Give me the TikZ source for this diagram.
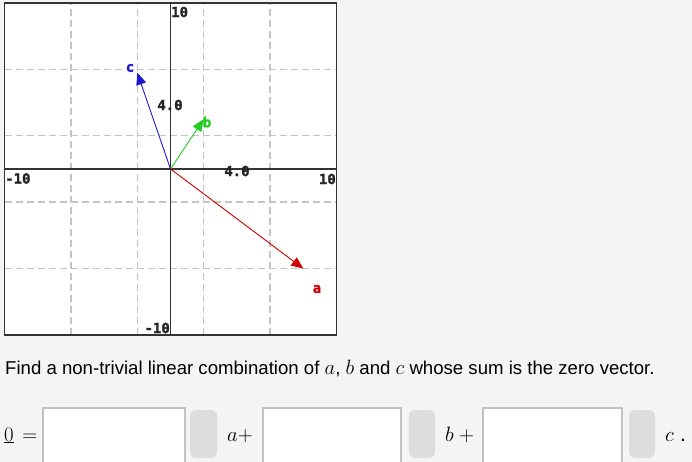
\documentclass[tikz,border=0pt]{standalone}
\usepackage{fontspec}
\setmainfont{Liberation Sans}
\newfontfamily\plotfont{DejaVu Sans Mono Bold}[FakeBold=1.6]
\usetikzlibrary{arrows.meta}
\definecolor{pagebg}{HTML}{F4F4F4}
\definecolor{gridgray}{HTML}{C4C4C4}
\definecolor{vecred}{HTML}{D00000}
\definecolor{vecgreen}{HTML}{22CC22}
\definecolor{vecblue}{HTML}{1A1ACC}
\definecolor{boxborder}{HTML}{C2C2C2}
\definecolor{btngray}{HTML}{DDDDDD}
\newcommand{\qm}[1]{{\fontsize{21}{21}\selectfont$#1$}}
\tikzset{
  gridline/.style={gridgray, line width=1.4pt, dash pattern=on 7pt off 4pt},
  axisline/.style={black!80, line width=1.4pt},
  plotlabel/.style={font=\plotfont\fontsize{14}{14}\selectfont, inner sep=0pt, text=black!85},
  veclabel/.style={font=\plotfont\fontsize{14}{14}\selectfont, inner sep=0pt},
  vecarrow/.style={line width=0.9pt, -{Triangle[length=12pt,width=10pt]}},
  inputbox/.style={draw=boxborder, fill=white, line width=1.3pt},
  btnbox/.style={fill=btngray, rounded corners=6pt},
  mathtext/.style={font=\fontsize{21}{21}\selectfont, inner sep=0pt},
}
\begin{document}
\begin{tikzpicture}[x=1pt,y=-1pt]
\fill[pagebg] (0,0) rectangle (692,462);
\useasboundingbox (0,0) rectangle (692,462);
% plot
\begin{scope}[shift={(170.5,169)}, x=16.6pt, y=16.6pt]
  \fill[white] (-10,-10) rectangle (10,10);
  \foreach \v in {-6,-2,2,6} {
    \draw[gridline] (\v,-10) -- (\v,10);
    \draw[gridline] (-10,\v) -- (10,\v);
  }
  \draw[axisline] (-10,0) -- (10,0);
  \draw[axisline] (0,-10) -- (0,10);
  \draw[black!80, line width=1.5pt] (-10,-10) rectangle (10,10);
  \coordinate (O) at (0,0);
  \coordinate (A) at (8,-6);
  \coordinate (B) at (2,3);
  \coordinate (C) at (-2,5.8);
  \draw[vecarrow, vecred] (O) -- (A);
  \draw[vecarrow, vecgreen] (O) -- (B);
  \draw[vecarrow, vecblue] (O) -- (C);
\end{scope}
\node[plotlabel, anchor=west] (ytop) at (171,12) {10};
\node[plotlabel, anchor=west] (xleft) at (5,178.5) {-10};
\node[plotlabel, anchor=east] (xright) at (336,179) {10};
\node[plotlabel, anchor=east] (ybot) at (170,328) {-10};
\node[plotlabel] (yfour) at (170,105) {4.0};
\node[plotlabel] (xfour) at (237,171) {4.0};
\node[veclabel, text=vecred] (la) at (317,289) {a};
\node[veclabel, text=vecgreen] (lb) at (207,122) {b};
\node[veclabel, text=vecblue] (lc) at (130,68) {c};
% question
\node[anchor=base west, inner sep=0pt, font=\fontsize{18.6}{18.6}\selectfont] (question) at (5,374)
  {Find a non-trivial linear combination of \qm{a}, \qm{b} and \qm{c} whose sum is the zero vector.};
% answer row
\draw[inputbox] (43,408) rectangle (185,463);
\draw[inputbox] (263,408) rectangle (401,463);
\draw[inputbox] (483,408) rectangle (622,463);
\fill[btnbox] (190,410) rectangle (217,458);
\fill[btnbox] (409,410) rectangle (435,458);
\fill[btnbox] (629,410) rectangle (655,458);
\node[mathtext, anchor=base west] (zero) at (4,441) {$\underline{0}$};
\node[mathtext, anchor=base east] (eq) at (37.5,441) {$=$};
\node[mathtext, anchor=base west] (aplus) at (227,441) {$a{+}$};
\node[mathtext, anchor=base west] (bterm) at (445,441) {$b$};
\node[mathtext, anchor=base west] (bplus) at (459,441) {$+$};
\node[mathtext, anchor=base west] (cterm) at (665,441) {$c$};
\node[mathtext, anchor=base west] (dot) at (680,441) {.};
\end{tikzpicture}
\end{document}
